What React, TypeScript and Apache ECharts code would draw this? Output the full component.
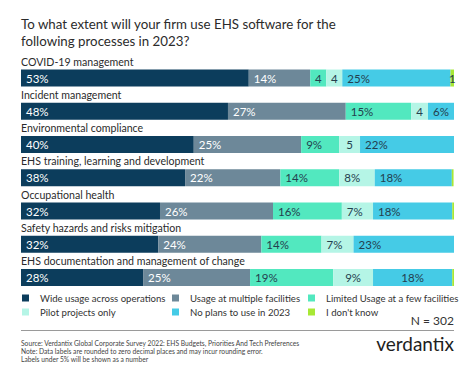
import React, { useEffect, useRef } from "react";
import * as echarts from "echarts";

const categories = [
  "COVID-19 management",
  "Incident management",
  "Environmental compliance",
  "EHS training, learning and development",
  "Occupational health",
  "Safety hazards and risks mitigation",
  "EHS documentation and management of change",
];

const seriesNames = [
  "Wide usage across operations",
  "Usage at multiple facilities",
  "Limited Usage at a few facilities",
  "Pilot projects only",
  "No plans to use in 2023",
  "I don't know",
];

const wideUsage = [52.6, 47.8, 39.9, 37.9, 32.1, 31.7, 28.2];
const multipleFacilities = [14.2, 27.2, 24.8, 22.0, 26.1, 23.8, 24.7];
const limitedUsage = [3.7, 15.1, 8.8, 13.6, 15.9, 13.9, 19.2];
const pilotOnly = [3.7, 3.9, 4.8, 8.2, 7.2, 7.4, 9.2];
const noPlans = [25.0, 6.0, 21.7, 17.8, 18.3, 23.2, 18.3];
const dontKnow = [0.8, 0, 0, 0.4, 0.4, 0, 0.4];

const seriesValues = [wideUsage, multipleFacilities, limitedUsage, pilotOnly, noPlans, dontKnow];

const colors = ["#0c3d5c", "#6d8899", "#52e8bf", "#b5f5e6", "#45cbe6", "#a8e835"];
const labelColors = ["#ffffff", "#ffffff", "#24404e", "#24404e", "#24404e", "#24404e"];
// [row, series] pairs whose label is centred in its segment
const centeredLabels = [[6, 3], [6, 4]];

const FONT = "Lato, 'Noto Sans', sans-serif";

export default function App() {
  const ref = useRef<HTMLDivElement>(null);
  useEffect(() => {
    document.body.style.margin = "0";
    if (!ref.current) return;
    const chart = echarts.init(ref.current, null, { renderer: "svg" });
    const series = seriesValues.map((vals, si) => ({
      name: seriesNames[si],
      type: "bar",
      stack: "total",
      barWidth: 17,
      itemStyle: { color: colors[si] },
      label: {
        show: true,
        position: "insideLeft",
        distance: 5,
        color: labelColors[si],
        fontSize: 11.5,
        fontFamily: FONT,
        formatter: (p: any) => {
          const v = p.value as number;
          if (v < 0.5) return "";
          const r = Math.round(v);
          return v < 5 ? String(r) : r + "%";
        },
      },
      data: vals.map((v, ri) => {
        const centered = v < 5 || centeredLabels.some(([r, s]) => r === ri && s === si);
        return centered ? { value: v, label: { position: "inside" } } : { value: v };
      }),
    }));

    const legendCols = [
      { left: 22, items: [seriesNames[0], seriesNames[3]] },
      { left: 172, items: [seriesNames[1], seriesNames[4]] },
      { left: 308, items: [seriesNames[2], seriesNames[5]] },
    ];

    chart.setOption({
      animation: false,
      color: colors,
      textStyle: { fontFamily: FONT },
      title: [
        {
          text: "To what extent will your firm use EHS software for the\nfollowing processes in 2023?",
          left: 21,
          top: 16,
          padding: 0,
          textStyle: { fontSize: 13.3, fontWeight: "normal", color: "#2b2b2b", lineHeight: 16.5, fontFamily: FONT },
        },
        {
          text: "N = 302",
          right: 20,
          top: 314,
          padding: 0,
          textStyle: { fontSize: 12, fontWeight: "normal", color: "#333", fontFamily: FONT },
        },
        {
          text:
            "Source: Verdantix Global Corporate Survey 2022: EHS Budgets, Priorities And Tech Preferences\nNote: Data labels are rounded to zero decimal places and may incur rounding error.\nLabels under 5% will be shown as a number",
          left: 21,
          top: 339,
          padding: 0,
          textStyle: { fontSize: 6.7, fontWeight: "normal", color: "#444", lineHeight: 8, fontFamily: FONT },
        },
        {
          text: "verdantix",
          right: 20,
          top: 334,
          padding: 0,
          textStyle: { fontSize: 19, fontWeight: "normal", color: "#1e1e1e", fontFamily: FONT },
        },
      ],
      legend: legendCols.map((c) => ({
        left: c.left,
        top: 291,
        orient: "vertical",
        padding: 0,
        itemGap: 0,
        itemWidth: 7,
        itemHeight: 7,
        icon: "rect",
        data: c.items,
        selectedMode: false,
        textStyle: { fontSize: 9.6, color: "#333", lineHeight: 14, padding: [0, 0, 0, 6], fontFamily: FONT },
      })),
      grid: { left: 21, right: 20, top: 61.4, height: 232.75, containLabel: false },
      xAxis: { type: "value", min: 0, max: 100, show: false },
      yAxis: {
        type: "category",
        inverse: true,
        data: categories,
        axisLine: { show: false },
        axisTick: { show: false },
        splitLine: { show: false },
        axisLabel: {
          inside: true,
          align: "left",
          verticalAlign: "bottom",
          padding: [0, 0, 11, 0],
          margin: 0,
          fontSize: 10.6,
          color: "#2b2b2b",
          fontFamily: FONT,
        },
      },
      graphic: [
        {
          type: "line",
          shape: { x1: 21, y1: 330.5, x2: 454, y2: 330.5 },
          style: { stroke: "#9a9a9a", lineWidth: 1 },
        },
      ],
      series,
    });
    return () => chart.dispose();
  }, []);
  return <div ref={ref} style={{ width: 474, height: 383 }} />;
}
